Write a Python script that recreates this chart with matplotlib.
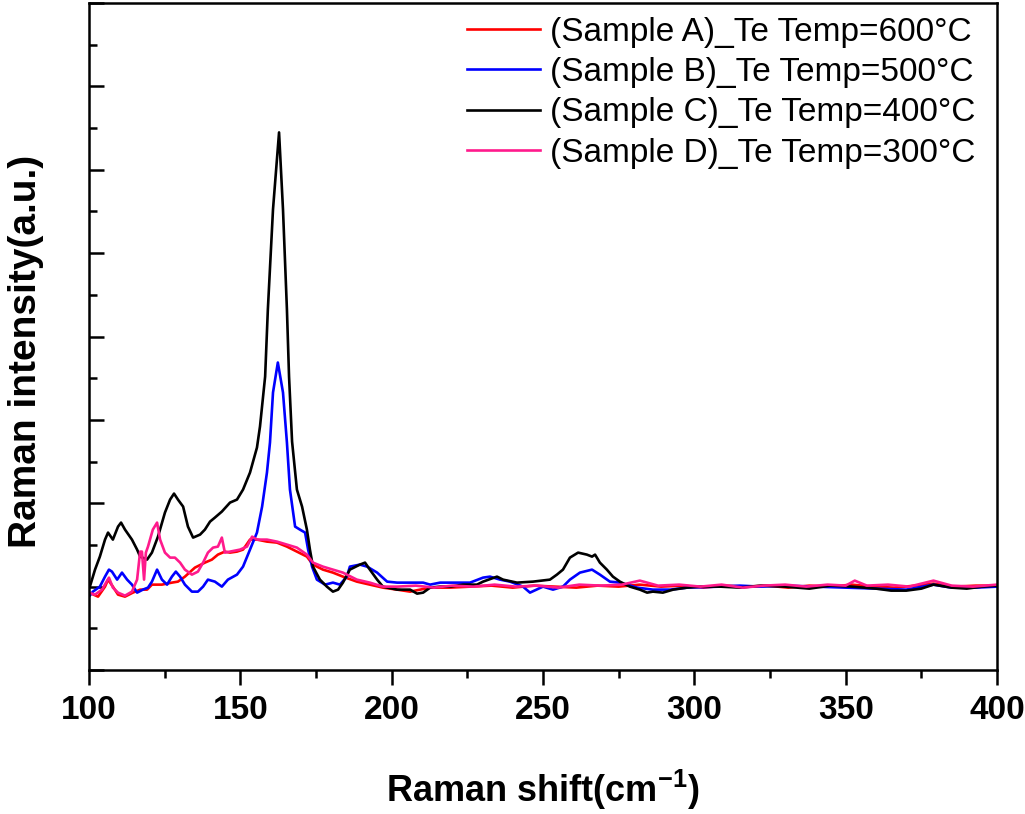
import matplotlib
matplotlib.use("Agg")
import matplotlib.pyplot as plt
from matplotlib.ticker import MultipleLocator, NullFormatter

# Raman spectra (x in cm^-1, intensity in a.u.)
x_a = [100.0, 103.0, 105.3, 106.3, 107.9, 109.6, 111.9, 114.5, 116.9, 119.2,
       120.8, 124.1, 127.4, 129.4, 131.7, 135.0, 138.3, 140.6, 142.6, 144.9,
       146.6, 148.9, 150.9, 153.2, 155.5, 158.8, 162.1, 165.4, 168.7, 172.0,
       174.0, 177.3, 180.6, 183.9, 188.5, 192.8, 197.1, 201.8, 206.1, 212.7,
       219.3, 226, 233, 240, 247, 254, 261, 268, 275, 282, 289, 296, 303,
       310, 317, 324, 331, 338, 345, 352, 359, 366, 373, 379, 386, 393, 400]
y_a = [-72, -120, 0, 84, 0, -96, -120, -72, -36, -36,
       24, 24, 48, 60, 120, 228, 288, 324, 384, 420,
       408, 420, 444, 564, 564, 540, 528, 480, 420, 360,
       264, 204, 168, 120, 60, 24, -12, -36, -60, -12,
       -12, 0, 12, -12, 12, 0, -12, 12, 0, 24, 0, 12, -12,
       12, 0, 12, -12, 12, 0, 24, 0, -12, 12, 36, 0, 12, 12]

x_b = [100.0, 101.3, 103.6, 105.3, 106.6, 107.6, 109.3, 110.9, 112.6, 114.2,
       115.9, 117.8, 119.5, 120.8, 122.5, 124.1, 125.8, 127.4, 128.7, 130.1,
       131.7, 134.0, 136.0, 137.7, 139.3, 141.6, 143.9, 145.9, 148.9, 150.9,
       153.2, 155.5, 157.2, 158.8, 159.8, 160.8, 162.4, 164.1, 165.4, 166.4,
       168.1, 169.7, 171.4, 172.4, 173.7, 175.3, 178.0, 180.6, 182.9, 185.2,
       186.2, 189.5, 191.9, 195.2, 198.5, 201.8, 206.1, 210.4, 212.7, 216.0,
       221.6, 225.9, 230.2, 232.5, 235.8, 239.1, 243.4, 245.7, 250.0, 253.3,
       256.6, 258.9, 262.2, 266.2, 268.8, 272.1, 275.4, 281.1, 286.3, 292.0,
       297.6, 308.5, 315, 322, 330, 340, 350, 360, 370, 379, 385, 393, 400]
y_b = [-120, -60, 0, 120, 204, 180, 84, 168, 84, 24,
       -72, -36, -12, 60, 204, 84, 24, 120, 180, 120,
       24, -60, -60, 0, 84, 60, 0, 84, 144, 240,
       444, 648, 960, 1368, 1728, 2328, 2688, 2328, 1728, 1164,
       720, 684, 648, 444, 240, 84, 24, 48, 24, 120,
       240, 264, 240, 168, 60, 48, 48, 48, 24, 48,
       48, 48, 108, 120, 84, 60, 0, -72, 0, -36,
       0, 84, 168, 204, 144, 60, 48, -12, -36, -36,
       -12, 0, 12, 0, 12, 0, -12, -24, -36, 24, -12, -12, 0]

x_c = [100.3, 102.0, 103.6, 105.3, 106.3, 107.9, 109.6, 110.6, 111.9, 114.2,
       115.9, 116.9, 119.2, 120.8, 122.8, 125.1, 126.8, 128.1, 129.4, 131.1,
       132.7, 134.4, 136.7, 138.3, 140.0, 141.6, 143.9, 146.6, 148.9, 150.9,
       153.2, 155.5, 156.5, 158.2, 159.1, 160.8, 162.8, 164.1, 165.4, 166.1,
       167.1, 168.7, 170.4, 172.0, 173.0, 174.0, 176.3, 178.6, 180.6, 182.3,
       183.9, 186.2, 189.5, 191.2, 192.8, 195.2, 197.1, 201.8, 206.1, 208.4,
       210.4, 212.7, 216.0, 219.3, 223.6, 228.2, 230.2, 234.8, 236.8, 241.4,
       246.7, 252.3, 254.6, 256.6, 258.9, 261.6, 264.5, 266.2, 267.2, 268.8,
       271.1, 273.1, 275.4, 278.7, 282.0, 284.4, 286.3, 289.6, 293.0, 297.6,
       301.9, 308.5, 315, 322, 330, 338, 345, 352, 360, 365, 370, 375, 379,
       385, 390, 395, 400]
y_c = [0, 204, 360, 564, 648, 564, 720, 768, 684, 564,
       444, 360, 324, 408, 600, 888, 1044, 1116, 1044, 960,
       720, 588, 624, 684, 780, 828, 900, 1008, 1044, 1164,
       1368, 1668, 1920, 2520, 3324, 4524, 5448, 4524, 3324, 2520,
       1740, 1164, 960, 684, 444, 240, 84, 0, -60, -36,
       48, 204, 264, 288, 204, 84, 0, -36, -36, -84,
       -72, -12, 0, 0, 24, 24, 60, 120, 84, 48,
       60, 84, 144, 204, 348, 408, 384, 360, 384, 288,
       204, 120, 60, 0, -36, -72, -60, -72, -36, -12,
       0, 0, -12, 12, 0, -24, 12, 0, -24, -48, -48, -24, 24,
       -12, -24, 0, 12]

x_d = [100.0, 102.0, 104.3, 106.6, 107.9, 109.6, 111.9, 114.2, 115.9, 116.9,
       117.5, 118.2, 118.8, 119.5, 121.1, 122.5, 123.5, 125.1, 126.8, 128.4,
       130.1, 131.7, 134.0, 136.0, 137.7, 139.3, 141.0, 142.6, 143.9, 144.9,
       146.6, 149.9, 152.2, 153.9, 155.5, 158.8, 162.1, 165.4, 168.7, 172.0,
       174.0, 177.3, 180.6, 183.9, 188.5, 192.8, 197.1, 201.8, 208, 214, 220,
       227, 234, 241, 248, 255, 262, 269, 276, 282, 288, 295, 302, 309, 316,
       323, 330, 337, 344, 350, 353, 357, 364, 371, 379, 385, 392, 400]
y_d = [-72, -96, -36, 108, -12, -72, -108, -60, 84, 420,
       420, 84, 408, 480, 684, 768, 564, 408, 348, 348,
       288, 204, 144, 180, 288, 408, 468, 480, 588, 408,
       420, 444, 480, 600, 564, 564, 540, 504, 468, 384,
       288, 240, 204, 168, 84, 48, 0, 0, 12, -12, 12,
       0, 24, 0, 12, -12, 24, 12, 24, 72, 12, 24, 0, 24, -12,
       12, 24, 0, 24, 12, 72, 12, 24, 0, 72, 12, 0, 24]

labels = ["(Sample A)_Te Temp=600°C", "(Sample B)_Te Temp=500°C",
          "(Sample C)_Te Temp=400°C", "(Sample D)_Te Temp=300°C"]
colors = ["#ff0000", "#0000ff", "#000000", "#ff1a8c"]

plt.rcParams["font.family"] = ["Liberation Sans", "DejaVu Sans"]
plt.rcParams["mathtext.fontset"] = "custom"
plt.rcParams["mathtext.rm"] = "Liberation Sans:bold"
plt.rcParams["mathtext.bf"] = "Liberation Sans:bold"

fig = plt.figure(figsize=(10.25, 8.14), dpi=100)
ax = fig.add_axes([0.0868, 0.1769, 0.8859, 0.8194])

for xs, ys, lab, c in zip([x_a, x_b, x_c, x_d], [y_a, y_b, y_c, y_d], labels, colors):
    ax.plot(xs, ys, color=c, lw=1.9, label=lab)

ax.set_xlim(100, 400)
ax.set_ylim(-1000, 7000)
ax.xaxis.set_major_locator(MultipleLocator(50))
ax.xaxis.set_minor_locator(MultipleLocator(25))
ax.yaxis.set_major_locator(MultipleLocator(1000))
ax.yaxis.set_minor_locator(MultipleLocator(500))
ax.yaxis.set_major_formatter(NullFormatter())

ax.tick_params(axis="x", which="major", direction="out", length=11, width=1.8, pad=7)
ax.tick_params(axis="x", which="minor", direction="out", length=6, width=1.8)
ax.tick_params(axis="y", which="major", direction="in", length=11, width=1.8)
ax.tick_params(axis="y", which="minor", direction="in", length=6, width=1.8)
for s in ax.spines.values():
    s.set_linewidth(1.8)

for t in ax.get_xticklabels():
    t.set_fontweight("bold")
    t.set_fontsize(24)

ax.set_xlabel("Raman shift(cm$^{-1}$)", fontsize=26, fontweight="bold", labelpad=30)
ax.set_ylabel("Raman intensity(a.u.)", fontsize=28, fontweight="bold")
ax.yaxis.set_label_coords(-0.05, 0.478)

ax.legend(loc="upper right", bbox_to_anchor=(1.0, 1.012), frameon=False,
          fontsize=24, handlelength=2.2, handletextpad=0.3, labelspacing=0.28,
          borderaxespad=0.25)

fig.savefig("out.png", dpi=100)
